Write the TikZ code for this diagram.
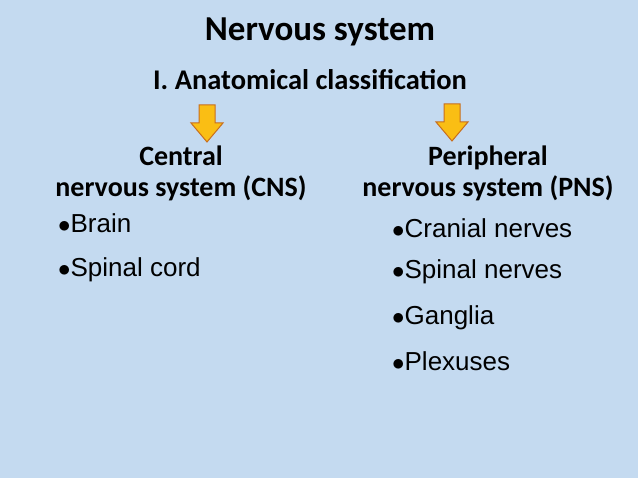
\documentclass[tikz,border=0pt]{standalone}
\usepackage{fontspec}
\setmainfont{Carlito}
\newfontfamily\arialf{Liberation Sans}
\definecolor{bg}{RGB}{196,218,240}
\definecolor{arrfill}{RGB}{250,190,20}
\definecolor{arrline}{RGB}{200,110,30}
\tikzset{
  ttl/.style={font=\fontsize{35}{40}\selectfont\bfseries, text=black},
  sub/.style={font=\fontsize{28.5}{32}\selectfont\bfseries, text=black},
  head/.style={font=\fontsize{28}{31}\selectfont\bfseries, text=black, align=center},
  item/.style={font=\arialf\fontsize{26}{30}\selectfont, text=black, anchor=west, inner sep=0pt},
  darrow/.style={fill=arrfill, draw=arrline, line width=1pt}
}
\newcommand{\downarrowat}[2]{%
  \draw[darrow] (#1-8pt,-#2) -- (#1+8pt,-#2) -- (#1+8pt,-#2-18pt) -- (#1+16pt,-#2-18pt)
   -- (#1,-#2-37pt) -- (#1-16pt,-#2-18pt) -- (#1-8pt,-#2-18pt) -- cycle;}
\begin{document}
\begin{tikzpicture}[x=1pt,y=1pt]
\fill[bg] (0,0) rectangle (638,-478);
\useasboundingbox (0,0) rectangle (638,-478);
\node[ttl] (t) at (320,-32) {Nervous system};
\node[sub] (s) at (310,-80) {I. Anatomical classification};
\downarrowat{207pt}{105pt}
\downarrowat{452pt}{104pt}
\node[head] (c) at (181,-173) {Central\\nervous system (CNS)};
\node[head] (p) at (488,-173) {Peripheral\\nervous system (PNS)};
\node[item] (b1) at (58,-223) {$\bullet$Brain};
\node[item] (b2) at (58,-270) {$\bullet$Spinal cord};
\node[item] (r1) at (392,-228) {$\bullet$Cranial nerves};
\node[item] (r2) at (392,-272) {$\bullet$Spinal nerves};
\node[item] (r3) at (392,-318) {$\bullet$Ganglia};
\node[item] (r4) at (392,-361) {$\bullet$Plexuses};
\end{tikzpicture}
\end{document}
